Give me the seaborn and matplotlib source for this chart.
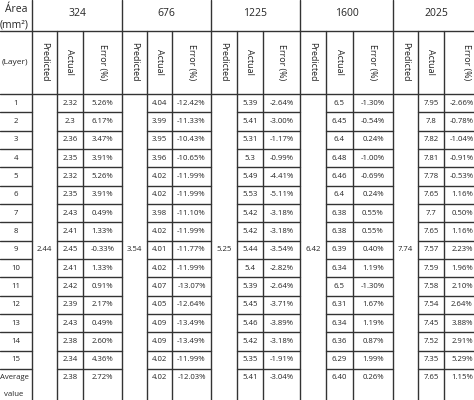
import numpy as np
import seaborn as sns
import matplotlib.pyplot as plt

sns.set_style("white")
plt.rcParams['font.family'] = ['Open Sans', 'DejaVu Sans']

areas = ["324", "676", "1225", "1600", "2025"]
predicted = [2.44, 3.54, 5.25, 6.42, 7.74]
layers = [str(i) for i in range(1, 16)]
actual = [
    ["2.32", "2.3", "2.36", "2.35", "2.32", "2.35", "2.43", "2.41", "2.45", "2.41", "2.42", "2.39", "2.43", "2.38", "2.34", "2.38"],
    ["4.04", "3.99", "3.95", "3.96", "4.02", "4.02", "3.98", "4.02", "4.01", "4.02", "4.07", "4.05", "4.09", "4.09", "4.02", "4.02"],
    ["5.39", "5.41", "5.31", "5.3", "5.49", "5.53", "5.42", "5.42", "5.44", "5.4", "5.39", "5.45", "5.46", "5.42", "5.35", "5.41"],
    ["6.5", "6.45", "6.4", "6.48", "6.46", "6.4", "6.38", "6.38", "6.39", "6.34", "6.5", "6.31", "6.34", "6.36", "6.29", "6.40"],
    ["7.95", "7.8", "7.82", "7.81", "7.78", "7.65", "7.7", "7.65", "7.57", "7.59", "7.58", "7.54", "7.45", "7.52", "7.35", "7.65"],
]
error = [
    ["5.26%", "6.17%", "3.47%", "3.91%", "5.26%", "3.91%", "0.49%", "1.33%", "-0.33%", "1.33%", "0.91%", "2.17%", "0.49%", "2.60%", "4.36%", "2.72%"],
    ["-12.42%", "-11.33%", "-10.43%", "-10.65%", "-11.99%", "-11.99%", "-11.10%", "-11.99%", "-11.77%", "-11.99%", "-13.07%", "-12.64%", "-13.49%", "-13.49%", "-11.99%", "-12.03%"],
    ["-2.64%", "-3.00%", "-1.17%", "-0.99%", "-4.41%", "-5.11%", "-3.18%", "-3.18%", "-3.54%", "-2.82%", "-2.64%", "-3.71%", "-3.89%", "-3.18%", "-1.91%", "-3.04%"],
    ["-1.30%", "-0.54%", "0.24%", "-1.00%", "-0.69%", "0.24%", "0.55%", "0.55%", "0.40%", "1.19%", "-1.30%", "1.67%", "1.19%", "0.87%", "1.99%", "0.26%"],
    ["-2.66%", "-0.78%", "-1.04%", "-0.91%", "-0.53%", "1.16%", "0.50%", "1.16%", "2.23%", "1.96%", "2.10%", "2.64%", "3.88%", "2.91%", "5.29%", "1.15%"],
]
sub_headers = ["Predicted", "Actual", "Error (%)"]

# table geometry in pixels
col_x = [0, 32, 57, 83, 122, 147, 172, 211, 237, 263, 300, 326, 353, 393, 418, 444, 490]
y_head1, y_head2, y_data = 31, 94, 94
row_h = 18.33
y_avg = y_data + 15 * row_h
y_bot = 410

fig = plt.figure(figsize=(4.74, 4.0), dpi=100)
ax = fig.add_axes([0, 0, 1, 1])
ax.set_xlim(0, 474)
ax.set_ylim(400, 0)
ax.axis("off")
lc, lw = "#333333", 1.0
fs = 5.6

# vertical lines
for i, x in enumerate(col_x[1:-1], start=1):
    top = 0 if (i - 1) % 3 == 0 else y_head1
    ax.plot([x, x], [top, y_bot], color=lc, lw=lw)
# horizontal lines
ax.plot([0, 474], [y_head1, y_head1], color=lc, lw=lw)
ax.plot([0, 474], [y_head2, y_head2], color=lc, lw=lw)
for r in range(1, 16):
    y = y_data + r * row_h
    ax.plot([0, col_x[1]], [y, y], color=lc, lw=lw)
    for g in range(5):
        ax.plot([col_x[3 * g + 2], col_x[3 * g + 4]], [y, y], color=lc, lw=lw)

# headers
ax.text(16, 10, "Área", ha="center", va="center", fontsize=7.5)
ax.text(14, 25, "(mm²)", ha="center", va="center", fontsize=7.5)
ax.text(15, 62, "(Layer)", ha="center", va="center", fontsize=6)
for g, a in enumerate(areas):
    xm = (col_x[3 * g + 1] + min(col_x[3 * g + 4], 480)) / 2
    ax.text(xm, 14, a, ha="center", va="center", fontsize=7.5)
    for k, h in enumerate(sub_headers):
        xc = (col_x[3 * g + 1 + k] + col_x[3 * g + 2 + k]) / 2
        ax.text(xc, 62, h, ha="center", va="center", rotation=-90, fontsize=6.4)

# data
for r in range(16):
    yc = y_data + (r + 0.5) * row_h if r < 15 else y_avg + 9
    if r < 15:
        ax.text(16, yc, layers[r], ha="center", va="center", fontsize=fs)
    for g in range(5):
        xa = (col_x[3 * g + 2] + col_x[3 * g + 3]) / 2
        xe = (col_x[3 * g + 3] + col_x[3 * g + 4]) / 2
        if g == 4:
            xe = 462
        ax.text(xa, yc, actual[g][r], ha="center", va="center", fontsize=fs)
        ax.text(xe, yc, error[g][r], ha="center", va="center", fontsize=fs)
ax.text(14, y_avg + 9, "Average", ha="center", va="center", fontsize=fs)
ax.text(14, y_avg + 26, "value", ha="center", va="center", fontsize=fs)
for g in range(5):
    xp = (col_x[3 * g + 1] + col_x[3 * g + 2]) / 2
    ax.text(xp, y_data + 8.5 * row_h, f"{predicted[g]:.2f}", ha="center", va="center", fontsize=fs)

fig.savefig("out.png", dpi=100, facecolor="white")
